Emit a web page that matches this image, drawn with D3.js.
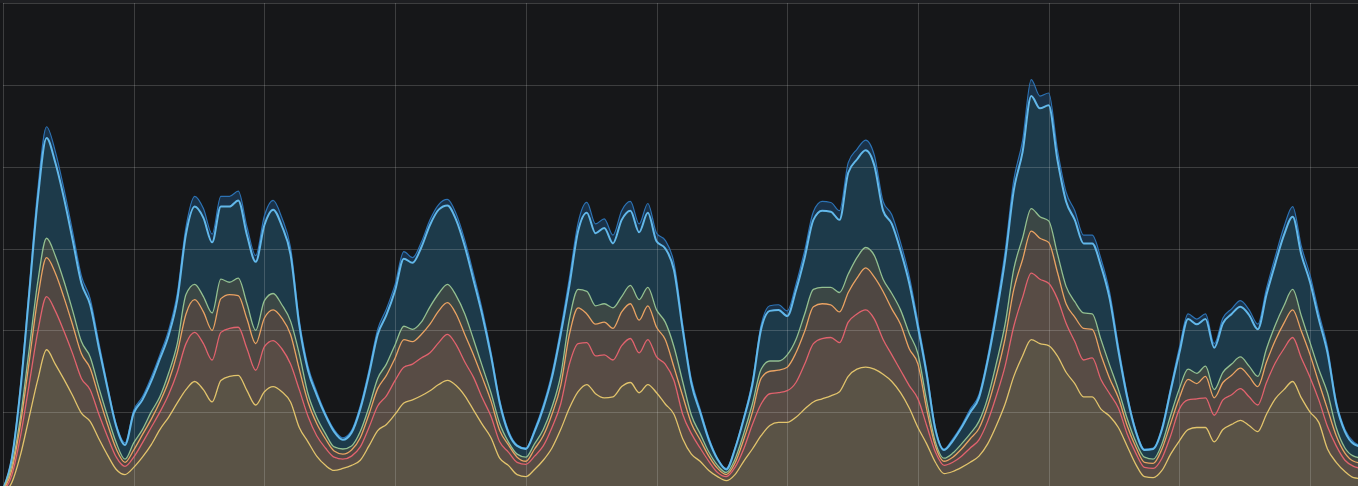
<!DOCTYPE html>
<html>
<head>
<meta charset="utf-8">
<script src="https://cdn.jsdelivr.net/npm/d3@7"></script>
<style>
  html, body { margin: 0; padding: 0; background: #161719; overflow: hidden; }
  svg { display: block; }
</style>
</head>
<body>
<div id="chart"></div>
<script>
var w = 1358,
	h = 486;

// series, bottom of the stack first
var seriesNames = ["yellow", "red", "orange", "green", "lightblue", "blue"];

var yellowVals = [
	1, 11, 38, 75, 112, 141, 127, 112, 96, 79,
	71, 54, 38, 24, 19, 26, 36, 48, 63, 75,
	89, 102, 110, 102, 90, 111, 115, 116, 101, 87,
	100, 105, 100, 90, 65, 51, 37, 28, 23, 25,
	28, 33, 47, 62, 68, 78, 89, 92, 96, 101,
	107, 111, 106, 96, 82, 68, 55, 35, 28, 19,
	17, 24, 33, 45, 63, 84, 100, 107, 98, 94,
	95, 105, 109, 99, 107, 99, 88, 78, 54, 39,
	32, 23, 17, 13, 19, 32, 44, 57, 67, 70,
	70, 75, 83, 90, 93, 96, 100, 115, 122, 124,
	122, 117, 110, 99, 84, 65, 49, 31, 20, 22,
	26, 31, 37, 49, 67, 88, 115, 135, 151, 147,
	145, 135, 119, 108, 95, 95, 83, 76, 65, 47,
	29, 17, 16, 23, 39, 52, 63, 65, 65, 51,
	63, 68, 72, 67, 61, 78, 93, 102, 110, 94,
	80, 70, 44, 31, 22, 16, 15
];
var redVals = [
	1, 7, 18, 32, 47, 52, 52, 47, 41, 34,
	31, 24, 18, 12, 8, 10, 14, 17, 17, 22,
	30, 45, 48, 45, 41, 47, 47, 47, 41, 34,
	44, 45, 42, 37, 37, 25, 20, 17, 13, 9,
	9, 13, 18, 24, 28, 33, 35, 35, 37, 37,
	41, 45, 40, 33, 32, 26, 21, 16, 13, 12,
	12, 13, 14, 20, 25, 43, 47, 41, 37, 42,
	36, 40, 43, 39, 44, 35, 39, 33, 24, 20,
	13, 9, 4, 4, 7, 12, 24, 31, 31, 29,
	31, 34, 44, 57, 59, 57, 48, 53, 54, 56,
	49, 34, 26, 22, 22, 28, 18, 10, 8, 9,
	11, 14, 16, 22, 29, 37, 49, 57, 65, 63,
	61, 56, 48, 41, 36, 38, 29, 22, 19, 12,
	11, 9, 9, 12, 18, 31, 29, 28, 29, 26,
	29, 29, 31, 28, 26, 31, 35, 40, 43, 39,
	34, 22, 22, 16, 11, 11, 10
];
var orangeVals = [
	1, 5, 12, 22, 33, 38, 37, 33, 28, 24,
	21, 17, 12, 8, 4, 7, 8, 8, 10, 13,
	19, 29, 32, 31, 29, 33, 33, 31, 29, 26,
	28, 30, 30, 29, 20, 14, 12, 9, 6, 5,
	6, 9, 13, 17, 20, 22, 27, 22, 23, 28,
	31, 31, 30, 27, 22, 20, 15, 11, 7, 5,
	3, 7, 10, 13, 18, 29, 35, 28, 31, 32,
	31, 33, 34, 32, 33, 29, 24, 13, 18, 10,
	8, 5, 4, 2, 4, 9, 12, 25, 22, 22,
	23, 29, 32, 36, 34, 32, 30, 29, 35, 41,
	41, 47, 45, 45, 36, 34, 16, 6, 4, 5,
	7, 9, 11, 15, 20, 27, 36, 37, 41, 40,
	40, 26, 19, 24, 31, 28, 24, 15, 10, 8,
	6, 5, 5, 9, 12, 11, 20, 15, 21, 17,
	17, 19, 20, 20, 18, 20, 22, 25, 27, 26,
	22, 17, 17, 10, 7, 5, 5
];
var greenVals = [
	1, 4, 7, 12, 16, 19, 17, 16, 14, 12,
	11, 9, 8, 6, 3, 7, 5, 7, 5, 8,
	9, 19, 15, 15, 17, 19, 12, 17, 15, 13,
	17, 16, 13, 13, 15, 8, 6, 5, 4, 5,
	4, 6, 7, 10, 11, 13, 13, 12, 12, 17,
	17, 18, 18, 20, 15, 11, 8, 7, 3, 3,
	4, 5, 6, 7, 10, 15, 18, 22, 18, 18,
	20, 15, 18, 20, 18, 17, 17, 20, 14, 8,
	6, 4, 3, 2, 4, 6, 8, 9, 10, 9,
	12, 13, 17, 17, 16, 17, 19, 18, 20, 20,
	21, 12, 15, 14, 15, 10, 8, 4, 3, 4,
	5, 5, 7, 8, 12, 14, 20, 21, 22, 21,
	21, 18, 17, 15, 15, 15, 15, 13, 8, 7,
	5, 5, 4, 5, 8, 9, 10, 10, 10, 8,
	10, 11, 11, 10, 10, 13, 15, 17, 20, 15,
	12, 13, 16, 8, 5, 5, 5
];
var lightblueVals = [
	1, 7, 27, 54, 81, 98, 91, 81, 69, 57,
	51, 39, 27, 16, 14, 29, 29, 30, 37, 37,
	43, 59, 76, 77, 69, 71, 74, 76, 67, 67,
	74, 82, 77, 65, 28, 23, 22, 18, 15, 9,
	13, 22, 32, 43, 48, 53, 66, 65, 73, 80,
	82, 77, 74, 66, 58, 50, 36, 20, 9, 8,
	8, 12, 21, 29, 40, 33, 57, 77, 71, 74,
	63, 75, 73, 66, 73, 67, 72, 75, 51, 31,
	21, 12, 6, 3, 10, 14, 19, 39, 49, 50,
	38, 48, 55, 68, 75, 74, 71, 99, 96, 95,
	88, 67, 68, 58, 49, 26, 26, 12, 8, 12,
	16, 21, 23, 36, 48, 63, 77, 84, 110, 106,
	113, 92, 83, 80, 68, 69, 72, 65, 38, 21,
	10, 7, 10, 14, 24, 35, 49, 48, 46, 41,
	48, 49, 49, 50, 46, 53, 60, 69, 71, 60,
	59, 49, 39, 23, 16, 12, 11
];
var blueVals = [
	0, 1, 3, 6, 9, 11, 11, 9, 8, 7,
	6, 5, 3, 2, 2, 3, 3, 4, 4, 5,
	6, 7, 10, 9, 8, 10, 10, 9, 8, 6,
	9, 9, 8, 7, 5, 4, 3, 2, 2, 2,
	2, 3, 4, 5, 6, 6, 7, 5, 5, 5,
	5, 6, 6, 6, 6, 5, 4, 3, 2, 1,
	1, 2, 3, 4, 5, 7, 8, 10, 9, 9,
	8, 9, 9, 8, 9, 8, 8, 7, 5, 4,
	3, 2, 1, 1, 1, 2, 3, 4, 5, 5,
	5, 6, 7, 8, 9, 9, 9, 10, 10, 10,
	10, 9, 9, 8, 7, 5, 4, 2, 1, 2,
	2, 3, 3, 4, 6, 8, 10, 11, 16, 12,
	12, 10, 9, 9, 8, 8, 7, 6, 5, 3,
	2, 1, 1, 2, 3, 5, 5, 5, 5, 4,
	5, 5, 6, 5, 5, 6, 7, 8, 10, 8,
	7, 6, 5, 3, 2, 2, 1
];

// x grid every 15 samples, y grid every 80
var xTicks = [0, 15, 30, 45, 60, 75, 90, 105, 120, 135, 150];
var yTicks = [0, 80, 160, 240, 320, 400, 480];

var lineColors = ["#e2c46c", "#e2636e", "#eba363", "#93c091", "#62b8ea", "#2c72b4"];
var bandColors = ["#5a5346", "#584c45", "#4f4742", "#3b4745", "#1d3a4a", "#1a3249"];
var lineWidths = [1.3, 1.3, 1.3, 1.3, 2, 1.2];

var valsBySeries = [yellowVals, redVals, orangeVals, greenVals, lightblueVals, blueVals];
var rows = yellowVals.map(function(v, i) {
	var r = { t: i };
	seriesNames.forEach(function(k, j) { r[k] = valsBySeries[j][i]; });
	return r;
});

var x = d3.scaleLinear().domain([0, 155.5]).range([3, 1358]);
var y = d3.scaleLinear().domain([0, 480]).range([494, 3]);

var stacked = d3.stack().keys(seriesNames)(rows);

var svg = d3.select("#chart").append("svg")
	.attr("width", w)
	.attr("height", h);

svg.append("rect")
	.attr("width", w)
	.attr("height", h)
	.attr("fill", "#161719");

svg.append("rect")
	.attr("width", w)
	.attr("height", 3)
	.attr("fill", "#1e1f22");

//stacked bands
var area = d3.area()
	.curve(d3.curveMonotoneX)
	.x(function(d) { return x(d.data.t); })
	.y0(function(d) { return y(d[0]); })
	.y1(function(d) { return y(d[1]); });

svg.append("g")
	.selectAll("path")
	.data(stacked)
	.enter()
	.append("path")
	.attr("d", area)
	.attr("fill", function(d, i) { return bandColors[i]; });

//grid
var grid = svg.append("g")
	.attr("stroke", "rgba(255,255,255,0.17)")
	.attr("stroke-width", 1);

grid.selectAll(".hline")
	.data(yTicks)
	.enter()
	.append("line")
	.attr("class", "hline")
	.attr("x1", 3)
	.attr("x2", w)
	.attr("y1", function(d) { return Math.round(y(d)) + 0.5; })
	.attr("y2", function(d) { return Math.round(y(d)) + 0.5; });

grid.selectAll(".vline")
	.data(xTicks)
	.enter()
	.append("line")
	.attr("class", "vline")
	.attr("y1", 3)
	.attr("y2", h)
	.attr("x1", function(d) { return Math.round(x(d)) + 0.5; })
	.attr("x2", function(d) { return Math.round(x(d)) + 0.5; });

//lines on top of each band
var line = d3.line()
	.curve(d3.curveMonotoneX)
	.x(function(d) { return x(d.data.t); })
	.y(function(d) { return y(d[1]); });

svg.append("g")
	.selectAll("path")
	.data(stacked.slice().reverse())
	.enter()
	.append("path")
	.attr("d", line)
	.attr("fill", "none")
	.attr("stroke", function(d) { return lineColors[d.index]; })
	.attr("stroke-width", function(d) { return lineWidths[d.index]; })
	.attr("stroke-linejoin", "round");
</script>
</body>
</html>
